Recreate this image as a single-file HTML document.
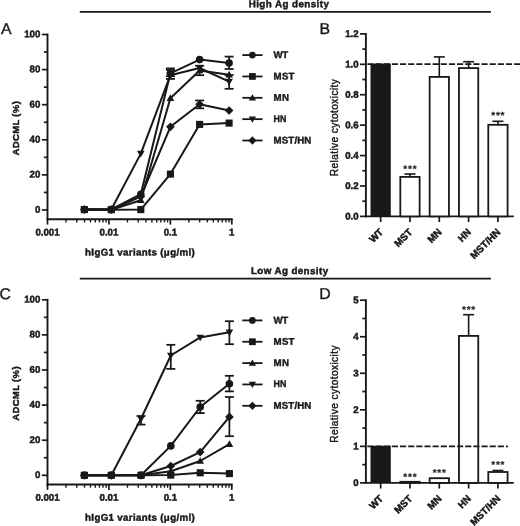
<!DOCTYPE html>
<html><head><meta charset="utf-8"><title>Figure</title>
<style>html,body{margin:0;padding:0;background:#fff}svg{display:block}</style></head>
<body>
<svg width="520" height="526" viewBox="0 0 520 526" font-family="Liberation Sans, Arial, sans-serif" fill="#181818" stroke="#181818">
<rect x="0" y="0" width="520" height="526" fill="#fff" stroke="none"/>
<text transform="translate(248.65 7.3) rotate(0.03)" font-size="9.8" font-weight="bold" text-anchor="start" textLength="80.2" lengthAdjust="spacing" stroke-width="0.45">High Ag density</text>
<text transform="translate(250.9 274.1) rotate(0.03)" font-size="9.8" font-weight="bold" text-anchor="start" textLength="77.2" lengthAdjust="spacing" stroke-width="0.45">Low Ag density</text>
<line x1="79.80" y1="11.95" x2="490.90" y2="11.95" stroke-width="1.8" />
<line x1="79.80" y1="278.70" x2="490.90" y2="278.70" stroke-width="1.8" />
<line x1="47.50" y1="33.60" x2="47.50" y2="220.10" stroke-width="1.9" />
<line x1="41.90" y1="210.00" x2="47.50" y2="210.00" stroke-width="1.7" />
<text transform="translate(40.3 212.7) rotate(0.03)" font-size="9.7" font-weight="bold" text-anchor="end" stroke-width="0.45">0</text>
<line x1="43.90" y1="192.45" x2="47.50" y2="192.45" stroke-width="1.7" />
<line x1="41.90" y1="174.90" x2="47.50" y2="174.90" stroke-width="1.7" />
<text transform="translate(40.3 177.6) rotate(0.03)" font-size="9.7" font-weight="bold" text-anchor="end" stroke-width="0.45">20</text>
<line x1="43.90" y1="157.35" x2="47.50" y2="157.35" stroke-width="1.7" />
<line x1="41.90" y1="139.80" x2="47.50" y2="139.80" stroke-width="1.7" />
<text transform="translate(40.3 142.5) rotate(0.03)" font-size="9.7" font-weight="bold" text-anchor="end" stroke-width="0.45">40</text>
<line x1="43.90" y1="122.25" x2="47.50" y2="122.25" stroke-width="1.7" />
<line x1="41.90" y1="104.70" x2="47.50" y2="104.70" stroke-width="1.7" />
<text transform="translate(40.3 107.4) rotate(0.03)" font-size="9.7" font-weight="bold" text-anchor="end" stroke-width="0.45">60</text>
<line x1="43.90" y1="87.15" x2="47.50" y2="87.15" stroke-width="1.7" />
<line x1="41.90" y1="69.60" x2="47.50" y2="69.60" stroke-width="1.7" />
<text transform="translate(40.3 72.30000000000003) rotate(0.03)" font-size="9.7" font-weight="bold" text-anchor="end" stroke-width="0.45">80</text>
<line x1="43.90" y1="52.05" x2="47.50" y2="52.05" stroke-width="1.7" />
<line x1="41.90" y1="34.50" x2="47.50" y2="34.50" stroke-width="1.7" />
<text transform="translate(40.3 37.2) rotate(0.03)" font-size="9.7" font-weight="bold" text-anchor="end" stroke-width="0.45">100</text>
<line x1="46.60" y1="219.20" x2="232.70" y2="219.20" stroke-width="1.9" />
<line x1="65.99" y1="219.20" x2="65.99" y2="222.40" stroke-width="1.4" />
<line x1="76.81" y1="219.20" x2="76.81" y2="222.40" stroke-width="1.4" />
<line x1="84.49" y1="219.20" x2="84.49" y2="222.40" stroke-width="1.4" />
<line x1="90.44" y1="219.20" x2="90.44" y2="222.40" stroke-width="1.4" />
<line x1="95.30" y1="219.20" x2="95.30" y2="222.40" stroke-width="1.4" />
<line x1="99.42" y1="219.20" x2="99.42" y2="222.40" stroke-width="1.4" />
<line x1="102.98" y1="219.20" x2="102.98" y2="222.40" stroke-width="1.4" />
<line x1="106.12" y1="219.20" x2="106.12" y2="222.40" stroke-width="1.4" />
<line x1="108.93" y1="219.20" x2="108.93" y2="224.60" stroke-width="1.7" />
<line x1="127.43" y1="219.20" x2="127.43" y2="222.40" stroke-width="1.4" />
<line x1="138.24" y1="219.20" x2="138.24" y2="222.40" stroke-width="1.4" />
<line x1="145.92" y1="219.20" x2="145.92" y2="222.40" stroke-width="1.4" />
<line x1="151.87" y1="219.20" x2="151.87" y2="222.40" stroke-width="1.4" />
<line x1="156.74" y1="219.20" x2="156.74" y2="222.40" stroke-width="1.4" />
<line x1="160.85" y1="219.20" x2="160.85" y2="222.40" stroke-width="1.4" />
<line x1="164.41" y1="219.20" x2="164.41" y2="222.40" stroke-width="1.4" />
<line x1="167.56" y1="219.20" x2="167.56" y2="222.40" stroke-width="1.4" />
<line x1="170.37" y1="219.20" x2="170.37" y2="224.60" stroke-width="1.7" />
<line x1="188.86" y1="219.20" x2="188.86" y2="222.40" stroke-width="1.4" />
<line x1="199.68" y1="219.20" x2="199.68" y2="222.40" stroke-width="1.4" />
<line x1="207.35" y1="219.20" x2="207.35" y2="222.40" stroke-width="1.4" />
<line x1="213.31" y1="219.20" x2="213.31" y2="222.40" stroke-width="1.4" />
<line x1="218.17" y1="219.20" x2="218.17" y2="222.40" stroke-width="1.4" />
<line x1="222.28" y1="219.20" x2="222.28" y2="222.40" stroke-width="1.4" />
<line x1="225.85" y1="219.20" x2="225.85" y2="222.40" stroke-width="1.4" />
<line x1="228.99" y1="219.20" x2="228.99" y2="222.40" stroke-width="1.4" />
<line x1="231.80" y1="219.20" x2="231.80" y2="224.60" stroke-width="1.7" />
<line x1="47.50" y1="219.20" x2="47.50" y2="224.60" stroke-width="1.7" />
<text transform="translate(47.5 235.5) rotate(0.03)" font-size="9.7" font-weight="bold" text-anchor="middle" stroke-width="0.45">0.001</text>
<text transform="translate(108.93333333333334 235.5) rotate(0.03)" font-size="9.7" font-weight="bold" text-anchor="middle" stroke-width="0.45">0.01</text>
<text transform="translate(170.36666666666667 235.5) rotate(0.03)" font-size="9.7" font-weight="bold" text-anchor="middle" stroke-width="0.45">0.1</text>
<text transform="translate(231.8 235.5) rotate(0.03)" font-size="9.7" font-weight="bold" text-anchor="middle" stroke-width="0.45">1</text>
<text transform="translate(85.1 255.5) rotate(0.03)" font-size="9.7" font-weight="bold" text-anchor="start" textLength="109.6" lengthAdjust="spacing" stroke-width="0.45">hIgG1 variants (μg/ml)</text>
<text transform="translate(18.9 155.5) rotate(-90)" font-size="9.6" font-weight="bold" text-anchor="start" textLength="54.4" lengthAdjust="spacing" stroke-width="0.45">ADCML (%)</text>
<text transform="translate(1.0 33.9) rotate(0.03)" font-size="15.8" font-weight="normal" text-anchor="start" stroke-width="0.35">A</text>
<path d="M84.40,209.60 L111.30,209.70 L140.80,209.60 L170.40,174.10 L199.60,124.40 L229.10,123.10" fill="none" stroke-width="2.0" stroke-linejoin="round"/>
<g stroke="none">
<rect x="80.85" y="206.05" width="7.10" height="7.10"/>
</g>
<g stroke="none">
<rect x="107.75" y="206.15" width="7.10" height="7.10"/>
</g>
<g stroke="none">
<rect x="137.25" y="206.05" width="7.10" height="7.10"/>
</g>
<g stroke="none">
<rect x="166.85" y="170.55" width="7.10" height="7.10"/>
</g>
<g stroke="none">
<rect x="196.05" y="120.85" width="7.10" height="7.10"/>
</g>
<g stroke="none">
<rect x="225.55" y="119.55" width="7.10" height="7.10"/>
</g>
<path d="M84.40,209.60 L111.30,209.70 L140.80,200.20 L170.40,98.20 L199.60,70.60 L229.10,74.70" fill="none" stroke-width="2.0" stroke-linejoin="round"/>
<line x1="199.60" y1="65.70" x2="199.60" y2="75.20" stroke-width="1.75" />
<line x1="195.10" y1="65.70" x2="204.10" y2="65.70" stroke-width="1.75" />
<line x1="195.10" y1="75.20" x2="204.10" y2="75.20" stroke-width="1.75" />
<g stroke="none">
<polygon points="84.40,205.75 80.55,212.37 88.25,212.37"/>
</g>
<g stroke="none">
<polygon points="111.30,205.85 107.45,212.47 115.15,212.47"/>
</g>
<g stroke="none">
<polygon points="140.80,196.35 136.95,202.97 144.65,202.97"/>
</g>
<g stroke="none">
<polygon points="170.40,94.35 166.55,100.97 174.25,100.97"/>
</g>
<g stroke="none">
<polygon points="199.60,66.75 195.75,73.37 203.45,73.37"/>
</g>
<g stroke="none">
<polygon points="229.10,70.85 225.25,77.47 232.95,77.47"/>
</g>
<path d="M84.40,209.60 L111.30,209.50 L140.80,153.60 L170.40,75.20 L199.60,68.00 L229.10,81.60" fill="none" stroke-width="2.0" stroke-linejoin="round"/>
<line x1="170.40" y1="68.40" x2="170.40" y2="78.90" stroke-width="1.75" />
<line x1="165.90" y1="68.40" x2="174.90" y2="68.40" stroke-width="1.75" />
<line x1="165.90" y1="78.90" x2="174.90" y2="78.90" stroke-width="1.75" />
<line x1="229.10" y1="75.00" x2="229.10" y2="88.80" stroke-width="1.75" />
<line x1="224.60" y1="75.00" x2="233.60" y2="75.00" stroke-width="1.75" />
<line x1="224.60" y1="88.80" x2="233.60" y2="88.80" stroke-width="1.75" />
<g stroke="none">
<polygon points="84.40,213.45 80.55,206.83 88.25,206.83"/>
</g>
<g stroke="none">
<polygon points="111.30,213.35 107.45,206.73 115.15,206.73"/>
</g>
<g stroke="none">
<polygon points="140.80,157.45 136.95,150.83 144.65,150.83"/>
</g>
<g stroke="none">
<polygon points="170.40,79.05 166.55,72.43 174.25,72.43"/>
</g>
<g stroke="none">
<polygon points="199.60,71.85 195.75,65.23 203.45,65.23"/>
</g>
<g stroke="none">
<polygon points="229.10,85.45 225.25,78.83 232.95,78.83"/>
</g>
<path d="M84.40,209.50 L111.30,209.60 L140.80,196.50 L170.40,126.80 L199.60,104.30 L229.10,110.50" fill="none" stroke-width="2.0" stroke-linejoin="round"/>
<line x1="199.60" y1="100.50" x2="199.60" y2="108.30" stroke-width="1.75" />
<line x1="195.10" y1="100.50" x2="204.10" y2="100.50" stroke-width="1.75" />
<line x1="195.10" y1="108.30" x2="204.10" y2="108.30" stroke-width="1.75" />
<g stroke="none">
<polygon points="84.40,205.15 80.05,209.50 84.40,213.85 88.75,209.50"/>
</g>
<g stroke="none">
<polygon points="111.30,205.25 106.95,209.60 111.30,213.95 115.65,209.60"/>
</g>
<g stroke="none">
<polygon points="140.80,192.15 136.45,196.50 140.80,200.85 145.15,196.50"/>
</g>
<g stroke="none">
<polygon points="170.40,122.45 166.05,126.80 170.40,131.15 174.75,126.80"/>
</g>
<g stroke="none">
<polygon points="199.60,99.95 195.25,104.30 199.60,108.65 203.95,104.30"/>
</g>
<g stroke="none">
<polygon points="229.10,106.15 224.75,110.50 229.10,114.85 233.45,110.50"/>
</g>
<path d="M84.40,209.50 L111.30,209.50 L140.80,194.20 L170.40,73.30 L199.60,59.60 L229.10,63.00" fill="none" stroke-width="2.0" stroke-linejoin="round"/>
<line x1="170.40" y1="70.00" x2="170.40" y2="76.20" stroke-width="1.75" />
<line x1="165.90" y1="70.00" x2="174.90" y2="70.00" stroke-width="1.75" />
<line x1="165.90" y1="76.20" x2="174.90" y2="76.20" stroke-width="1.75" />
<line x1="229.10" y1="56.60" x2="229.10" y2="69.00" stroke-width="1.75" />
<line x1="224.60" y1="56.60" x2="233.60" y2="56.60" stroke-width="1.75" />
<line x1="224.60" y1="69.00" x2="233.60" y2="69.00" stroke-width="1.75" />
<g stroke="none">
<circle cx="84.40" cy="209.50" r="3.80"/>
</g>
<g stroke="none">
<circle cx="111.30" cy="209.50" r="3.80"/>
</g>
<g stroke="none">
<circle cx="140.80" cy="194.20" r="3.80"/>
</g>
<g stroke="none">
<circle cx="170.40" cy="73.30" r="3.80"/>
</g>
<g stroke="none">
<circle cx="199.60" cy="59.60" r="3.80"/>
</g>
<g stroke="none">
<circle cx="229.10" cy="63.00" r="3.80"/>
</g>
<line x1="242.30" y1="55.10" x2="262.50" y2="55.10" stroke-width="1.8" />
<g stroke="none">
<circle cx="252.40" cy="55.10" r="3.34"/>
</g>
<text transform="translate(273.6 58.099999999999994) rotate(0.03)" font-size="9.7" font-weight="bold" text-anchor="start" textLength="14.7" lengthAdjust="spacing" stroke-width="0.4">WT</text>
<line x1="242.30" y1="76.45" x2="262.50" y2="76.45" stroke-width="1.8" />
<g stroke="none">
<rect x="249.03" y="73.08" width="6.74" height="6.74"/>
</g>
<text transform="translate(273.6 79.44999999999999) rotate(0.03)" font-size="9.7" font-weight="bold" text-anchor="start" textLength="20.9" lengthAdjust="spacing" stroke-width="0.4">MST</text>
<line x1="242.30" y1="97.80" x2="262.50" y2="97.80" stroke-width="1.8" />
<g stroke="none">
<polygon points="252.40,94.14 248.74,100.43 256.06,100.43"/>
</g>
<text transform="translate(273.6 100.8) rotate(0.03)" font-size="9.7" font-weight="bold" text-anchor="start" textLength="15.3" lengthAdjust="spacing" stroke-width="0.4">MN</text>
<line x1="242.30" y1="119.15" x2="262.50" y2="119.15" stroke-width="1.8" />
<g stroke="none">
<polygon points="252.40,122.81 248.74,116.52 256.06,116.52"/>
</g>
<text transform="translate(273.6 122.15) rotate(0.03)" font-size="9.7" font-weight="bold" text-anchor="start" textLength="12.8" lengthAdjust="spacingAndGlyphs" stroke-width="0.4">HN</text>
<line x1="242.30" y1="140.50" x2="262.50" y2="140.50" stroke-width="1.8" />
<g stroke="none">
<polygon points="252.40,136.37 248.27,140.50 252.40,144.63 256.53,140.50"/>
</g>
<text transform="translate(273.6 143.5) rotate(0.03)" font-size="9.7" font-weight="bold" text-anchor="start" textLength="37.7" lengthAdjust="spacing" stroke-width="0.4">MST/HN</text>
<line x1="47.50" y1="298.90" x2="47.50" y2="485.40" stroke-width="1.9" />
<line x1="41.90" y1="475.30" x2="47.50" y2="475.30" stroke-width="1.7" />
<text transform="translate(40.3 478.0) rotate(0.03)" font-size="9.7" font-weight="bold" text-anchor="end" stroke-width="0.45">0</text>
<line x1="43.90" y1="457.75" x2="47.50" y2="457.75" stroke-width="1.7" />
<line x1="41.90" y1="440.20" x2="47.50" y2="440.20" stroke-width="1.7" />
<text transform="translate(40.3 442.90000000000003) rotate(0.03)" font-size="9.7" font-weight="bold" text-anchor="end" stroke-width="0.45">20</text>
<line x1="43.90" y1="422.65" x2="47.50" y2="422.65" stroke-width="1.7" />
<line x1="41.90" y1="405.10" x2="47.50" y2="405.10" stroke-width="1.7" />
<text transform="translate(40.3 407.8) rotate(0.03)" font-size="9.7" font-weight="bold" text-anchor="end" stroke-width="0.45">40</text>
<line x1="43.90" y1="387.55" x2="47.50" y2="387.55" stroke-width="1.7" />
<line x1="41.90" y1="370.00" x2="47.50" y2="370.00" stroke-width="1.7" />
<text transform="translate(40.3 372.7) rotate(0.03)" font-size="9.7" font-weight="bold" text-anchor="end" stroke-width="0.45">60</text>
<line x1="43.90" y1="352.45" x2="47.50" y2="352.45" stroke-width="1.7" />
<line x1="41.90" y1="334.90" x2="47.50" y2="334.90" stroke-width="1.7" />
<text transform="translate(40.3 337.6) rotate(0.03)" font-size="9.7" font-weight="bold" text-anchor="end" stroke-width="0.45">80</text>
<line x1="43.90" y1="317.35" x2="47.50" y2="317.35" stroke-width="1.7" />
<line x1="41.90" y1="299.80" x2="47.50" y2="299.80" stroke-width="1.7" />
<text transform="translate(40.3 302.5) rotate(0.03)" font-size="9.7" font-weight="bold" text-anchor="end" stroke-width="0.45">100</text>
<line x1="46.60" y1="484.50" x2="232.70" y2="484.50" stroke-width="1.9" />
<line x1="65.99" y1="484.50" x2="65.99" y2="487.70" stroke-width="1.4" />
<line x1="76.81" y1="484.50" x2="76.81" y2="487.70" stroke-width="1.4" />
<line x1="84.49" y1="484.50" x2="84.49" y2="487.70" stroke-width="1.4" />
<line x1="90.44" y1="484.50" x2="90.44" y2="487.70" stroke-width="1.4" />
<line x1="95.30" y1="484.50" x2="95.30" y2="487.70" stroke-width="1.4" />
<line x1="99.42" y1="484.50" x2="99.42" y2="487.70" stroke-width="1.4" />
<line x1="102.98" y1="484.50" x2="102.98" y2="487.70" stroke-width="1.4" />
<line x1="106.12" y1="484.50" x2="106.12" y2="487.70" stroke-width="1.4" />
<line x1="108.93" y1="484.50" x2="108.93" y2="489.90" stroke-width="1.7" />
<line x1="127.43" y1="484.50" x2="127.43" y2="487.70" stroke-width="1.4" />
<line x1="138.24" y1="484.50" x2="138.24" y2="487.70" stroke-width="1.4" />
<line x1="145.92" y1="484.50" x2="145.92" y2="487.70" stroke-width="1.4" />
<line x1="151.87" y1="484.50" x2="151.87" y2="487.70" stroke-width="1.4" />
<line x1="156.74" y1="484.50" x2="156.74" y2="487.70" stroke-width="1.4" />
<line x1="160.85" y1="484.50" x2="160.85" y2="487.70" stroke-width="1.4" />
<line x1="164.41" y1="484.50" x2="164.41" y2="487.70" stroke-width="1.4" />
<line x1="167.56" y1="484.50" x2="167.56" y2="487.70" stroke-width="1.4" />
<line x1="170.37" y1="484.50" x2="170.37" y2="489.90" stroke-width="1.7" />
<line x1="188.86" y1="484.50" x2="188.86" y2="487.70" stroke-width="1.4" />
<line x1="199.68" y1="484.50" x2="199.68" y2="487.70" stroke-width="1.4" />
<line x1="207.35" y1="484.50" x2="207.35" y2="487.70" stroke-width="1.4" />
<line x1="213.31" y1="484.50" x2="213.31" y2="487.70" stroke-width="1.4" />
<line x1="218.17" y1="484.50" x2="218.17" y2="487.70" stroke-width="1.4" />
<line x1="222.28" y1="484.50" x2="222.28" y2="487.70" stroke-width="1.4" />
<line x1="225.85" y1="484.50" x2="225.85" y2="487.70" stroke-width="1.4" />
<line x1="228.99" y1="484.50" x2="228.99" y2="487.70" stroke-width="1.4" />
<line x1="231.80" y1="484.50" x2="231.80" y2="489.90" stroke-width="1.7" />
<line x1="47.50" y1="484.50" x2="47.50" y2="489.90" stroke-width="1.7" />
<text transform="translate(47.5 500.8) rotate(0.03)" font-size="9.7" font-weight="bold" text-anchor="middle" stroke-width="0.45">0.001</text>
<text transform="translate(108.93333333333334 500.8) rotate(0.03)" font-size="9.7" font-weight="bold" text-anchor="middle" stroke-width="0.45">0.01</text>
<text transform="translate(170.36666666666667 500.8) rotate(0.03)" font-size="9.7" font-weight="bold" text-anchor="middle" stroke-width="0.45">0.1</text>
<text transform="translate(231.8 500.8) rotate(0.03)" font-size="9.7" font-weight="bold" text-anchor="middle" stroke-width="0.45">1</text>
<text transform="translate(85.1 520.8) rotate(0.03)" font-size="9.7" font-weight="bold" text-anchor="start" textLength="109.6" lengthAdjust="spacing" stroke-width="0.45">hIgG1 variants (μg/ml)</text>
<text transform="translate(18.9 420.8) rotate(-90)" font-size="9.6" font-weight="bold" text-anchor="start" textLength="54.4" lengthAdjust="spacing" stroke-width="0.45">ADCML (%)</text>
<text transform="translate(-0.6 299.3) rotate(0.03)" font-size="15.8" font-weight="normal" text-anchor="start" stroke-width="0.35">C</text>
<path d="M84.40,475.30 L111.30,475.30 L141.00,475.30 L170.80,475.10 L200.20,472.80 L229.40,473.60" fill="none" stroke-width="2.0" stroke-linejoin="round"/>
<g stroke="none">
<rect x="80.85" y="471.75" width="7.10" height="7.10"/>
</g>
<g stroke="none">
<rect x="107.75" y="471.75" width="7.10" height="7.10"/>
</g>
<g stroke="none">
<rect x="137.45" y="471.75" width="7.10" height="7.10"/>
</g>
<g stroke="none">
<rect x="167.25" y="471.55" width="7.10" height="7.10"/>
</g>
<g stroke="none">
<rect x="196.65" y="469.25" width="7.10" height="7.10"/>
</g>
<g stroke="none">
<rect x="225.85" y="470.05" width="7.10" height="7.10"/>
</g>
<path d="M84.40,475.30 L111.30,475.30 L141.00,475.30 L170.80,471.20 L200.20,461.00 L229.40,444.20" fill="none" stroke-width="2.0" stroke-linejoin="round"/>
<g stroke="none">
<polygon points="84.40,471.45 80.55,478.07 88.25,478.07"/>
</g>
<g stroke="none">
<polygon points="111.30,471.45 107.45,478.07 115.15,478.07"/>
</g>
<g stroke="none">
<polygon points="141.00,471.45 137.15,478.07 144.85,478.07"/>
</g>
<g stroke="none">
<polygon points="170.80,467.35 166.95,473.97 174.65,473.97"/>
</g>
<g stroke="none">
<polygon points="200.20,457.15 196.35,463.77 204.05,463.77"/>
</g>
<g stroke="none">
<polygon points="229.40,440.35 225.55,446.97 233.25,446.97"/>
</g>
<path d="M84.40,475.30 L111.30,475.30 L141.00,418.80 L170.80,355.50 L200.20,337.40 L229.40,332.30" fill="none" stroke-width="2.0" stroke-linejoin="round"/>
<line x1="141.00" y1="416.00" x2="141.00" y2="424.60" stroke-width="1.75" />
<line x1="136.50" y1="416.00" x2="145.50" y2="416.00" stroke-width="1.75" />
<line x1="136.50" y1="424.60" x2="145.50" y2="424.60" stroke-width="1.75" />
<line x1="170.80" y1="344.80" x2="170.80" y2="368.90" stroke-width="1.75" />
<line x1="166.30" y1="344.80" x2="175.30" y2="344.80" stroke-width="1.75" />
<line x1="166.30" y1="368.90" x2="175.30" y2="368.90" stroke-width="1.75" />
<line x1="229.40" y1="321.20" x2="229.40" y2="344.20" stroke-width="1.75" />
<line x1="224.90" y1="321.20" x2="233.90" y2="321.20" stroke-width="1.75" />
<line x1="224.90" y1="344.20" x2="233.90" y2="344.20" stroke-width="1.75" />
<g stroke="none">
<polygon points="84.40,479.15 80.55,472.53 88.25,472.53"/>
</g>
<g stroke="none">
<polygon points="111.30,479.15 107.45,472.53 115.15,472.53"/>
</g>
<g stroke="none">
<polygon points="141.00,422.65 137.15,416.03 144.85,416.03"/>
</g>
<g stroke="none">
<polygon points="170.80,359.35 166.95,352.73 174.65,352.73"/>
</g>
<g stroke="none">
<polygon points="200.20,341.25 196.35,334.63 204.05,334.63"/>
</g>
<g stroke="none">
<polygon points="229.40,336.15 225.55,329.53 233.25,329.53"/>
</g>
<path d="M84.40,475.30 L111.30,475.30 L141.00,475.30 L170.80,466.00 L200.20,452.10 L229.40,416.90" fill="none" stroke-width="2.0" stroke-linejoin="round"/>
<line x1="229.40" y1="397.00" x2="229.40" y2="436.20" stroke-width="1.75" />
<line x1="224.90" y1="397.00" x2="233.90" y2="397.00" stroke-width="1.75" />
<line x1="224.90" y1="436.20" x2="233.90" y2="436.20" stroke-width="1.75" />
<g stroke="none">
<polygon points="84.40,470.95 80.05,475.30 84.40,479.65 88.75,475.30"/>
</g>
<g stroke="none">
<polygon points="111.30,470.95 106.95,475.30 111.30,479.65 115.65,475.30"/>
</g>
<g stroke="none">
<polygon points="141.00,470.95 136.65,475.30 141.00,479.65 145.35,475.30"/>
</g>
<g stroke="none">
<polygon points="170.80,461.65 166.45,466.00 170.80,470.35 175.15,466.00"/>
</g>
<g stroke="none">
<polygon points="200.20,447.75 195.85,452.10 200.20,456.45 204.55,452.10"/>
</g>
<g stroke="none">
<polygon points="229.40,412.55 225.05,416.90 229.40,421.25 233.75,416.90"/>
</g>
<path d="M84.40,475.30 L111.30,475.30 L141.00,475.30 L170.80,445.90 L200.20,407.00 L229.40,383.70" fill="none" stroke-width="2.0" stroke-linejoin="round"/>
<line x1="200.20" y1="400.80" x2="200.20" y2="413.10" stroke-width="1.75" />
<line x1="195.70" y1="400.80" x2="204.70" y2="400.80" stroke-width="1.75" />
<line x1="195.70" y1="413.10" x2="204.70" y2="413.10" stroke-width="1.75" />
<line x1="229.40" y1="375.80" x2="229.40" y2="391.40" stroke-width="1.75" />
<line x1="224.90" y1="375.80" x2="233.90" y2="375.80" stroke-width="1.75" />
<line x1="224.90" y1="391.40" x2="233.90" y2="391.40" stroke-width="1.75" />
<g stroke="none">
<circle cx="84.40" cy="475.30" r="3.80"/>
</g>
<g stroke="none">
<circle cx="111.30" cy="475.30" r="3.80"/>
</g>
<g stroke="none">
<circle cx="141.00" cy="475.30" r="3.80"/>
</g>
<g stroke="none">
<circle cx="170.80" cy="445.90" r="3.80"/>
</g>
<g stroke="none">
<circle cx="200.20" cy="407.00" r="3.80"/>
</g>
<g stroke="none">
<circle cx="229.40" cy="383.70" r="3.80"/>
</g>
<line x1="242.30" y1="320.40" x2="262.50" y2="320.40" stroke-width="1.8" />
<g stroke="none">
<circle cx="252.40" cy="320.40" r="3.34"/>
</g>
<text transform="translate(273.6 323.4) rotate(0.03)" font-size="9.7" font-weight="bold" text-anchor="start" textLength="14.7" lengthAdjust="spacing" stroke-width="0.4">WT</text>
<line x1="242.30" y1="341.75" x2="262.50" y2="341.75" stroke-width="1.8" />
<g stroke="none">
<rect x="249.03" y="338.38" width="6.74" height="6.74"/>
</g>
<text transform="translate(273.6 344.75) rotate(0.03)" font-size="9.7" font-weight="bold" text-anchor="start" textLength="20.9" lengthAdjust="spacing" stroke-width="0.4">MST</text>
<line x1="242.30" y1="363.10" x2="262.50" y2="363.10" stroke-width="1.8" />
<g stroke="none">
<polygon points="252.40,359.44 248.74,365.73 256.06,365.73"/>
</g>
<text transform="translate(273.6 366.09999999999997) rotate(0.03)" font-size="9.7" font-weight="bold" text-anchor="start" textLength="15.3" lengthAdjust="spacing" stroke-width="0.4">MN</text>
<line x1="242.30" y1="384.45" x2="262.50" y2="384.45" stroke-width="1.8" />
<g stroke="none">
<polygon points="252.40,388.11 248.74,381.82 256.06,381.82"/>
</g>
<text transform="translate(273.6 387.45) rotate(0.03)" font-size="9.7" font-weight="bold" text-anchor="start" textLength="12.8" lengthAdjust="spacingAndGlyphs" stroke-width="0.4">HN</text>
<line x1="242.30" y1="405.80" x2="262.50" y2="405.80" stroke-width="1.8" />
<g stroke="none">
<polygon points="252.40,401.67 248.27,405.80 252.40,409.93 256.53,405.80"/>
</g>
<text transform="translate(273.6 408.79999999999995) rotate(0.03)" font-size="9.7" font-weight="bold" text-anchor="start" textLength="37.7" lengthAdjust="spacing" stroke-width="0.4">MST/HN</text>
<line x1="365.90" y1="33.00" x2="365.90" y2="217.30" stroke-width="1.9" />
<line x1="360.00" y1="216.40" x2="365.90" y2="216.40" stroke-width="1.7" />
<text transform="translate(358.7 219.5) rotate(0.03)" font-size="9.7" font-weight="bold" text-anchor="end" stroke-width="0.45">0.0</text>
<line x1="360.00" y1="185.98" x2="365.90" y2="185.98" stroke-width="1.7" />
<text transform="translate(358.7 189.08333333333334) rotate(0.03)" font-size="9.7" font-weight="bold" text-anchor="end" stroke-width="0.45">0.2</text>
<line x1="360.00" y1="155.57" x2="365.90" y2="155.57" stroke-width="1.7" />
<text transform="translate(358.7 158.66666666666666) rotate(0.03)" font-size="9.7" font-weight="bold" text-anchor="end" stroke-width="0.45">0.4</text>
<line x1="360.00" y1="125.15" x2="365.90" y2="125.15" stroke-width="1.7" />
<text transform="translate(358.7 128.25) rotate(0.03)" font-size="9.7" font-weight="bold" text-anchor="end" stroke-width="0.45">0.6</text>
<line x1="360.00" y1="94.73" x2="365.90" y2="94.73" stroke-width="1.7" />
<text transform="translate(358.7 97.83333333333331) rotate(0.03)" font-size="9.7" font-weight="bold" text-anchor="end" stroke-width="0.45">0.8</text>
<line x1="360.00" y1="64.32" x2="365.90" y2="64.32" stroke-width="1.7" />
<text transform="translate(358.7 67.41666666666666) rotate(0.03)" font-size="9.7" font-weight="bold" text-anchor="end" stroke-width="0.45">1.0</text>
<line x1="360.00" y1="33.90" x2="365.90" y2="33.90" stroke-width="1.7" />
<text transform="translate(358.7 37.00000000000001) rotate(0.03)" font-size="9.7" font-weight="bold" text-anchor="end" stroke-width="0.45">1.2</text>
<line x1="362.30" y1="201.19" x2="365.90" y2="201.19" stroke-width="1.7" />
<line x1="362.30" y1="170.78" x2="365.90" y2="170.78" stroke-width="1.7" />
<line x1="362.30" y1="140.36" x2="365.90" y2="140.36" stroke-width="1.7" />
<line x1="362.30" y1="109.94" x2="365.90" y2="109.94" stroke-width="1.7" />
<line x1="362.30" y1="79.53" x2="365.90" y2="79.53" stroke-width="1.7" />
<line x1="362.30" y1="49.11" x2="365.90" y2="49.11" stroke-width="1.7" />
<line x1="365.00" y1="216.40" x2="513.80" y2="216.40" stroke-width="1.9" />
<rect x="370.50" y="63.60" width="20.3" height="152.80" fill="#181818" stroke="none"/>
<line x1="380.65" y1="216.40" x2="380.65" y2="222.00" stroke-width="1.7" />
<text transform="translate(383.65 232.8) rotate(-45)" font-size="9.8" font-weight="bold" text-anchor="end" textLength="14.7" lengthAdjust="spacing" stroke-width="0.5">WT</text>
<line x1="409.97" y1="174.00" x2="409.97" y2="176.90" stroke-width="1.6" />
<line x1="404.47" y1="174.00" x2="415.47" y2="174.00" stroke-width="1.6" />
<rect x="400.32" y="176.90" width="19.3" height="39.50" fill="#fff" stroke-width="1.8"/>
<line x1="409.97" y1="216.40" x2="409.97" y2="222.00" stroke-width="1.7" />
<text transform="translate(403.36999999999995 172.2) rotate(0.03)" font-size="10.0" font-weight="bold" text-anchor="start" textLength="13.2" lengthAdjust="spacing" stroke-width="0.2">***</text>
<text transform="translate(412.96999999999997 232.8) rotate(-45)" font-size="9.8" font-weight="bold" text-anchor="end" textLength="20.9" lengthAdjust="spacing" stroke-width="0.5">MST</text>
<line x1="439.29" y1="56.90" x2="439.29" y2="76.90" stroke-width="1.6" />
<line x1="433.79" y1="56.90" x2="444.79" y2="56.90" stroke-width="1.6" />
<rect x="429.64" y="76.90" width="19.3" height="139.50" fill="#fff" stroke-width="1.8"/>
<line x1="439.29" y1="216.40" x2="439.29" y2="222.00" stroke-width="1.7" />
<text transform="translate(442.28999999999996 232.8) rotate(-45)" font-size="9.8" font-weight="bold" text-anchor="end" textLength="15.3" lengthAdjust="spacing" stroke-width="0.5">MN</text>
<line x1="468.61" y1="61.70" x2="468.61" y2="68.10" stroke-width="1.6" />
<line x1="463.11" y1="61.70" x2="474.11" y2="61.70" stroke-width="1.6" />
<rect x="458.96" y="68.10" width="19.3" height="148.30" fill="#fff" stroke-width="1.8"/>
<line x1="468.61" y1="216.40" x2="468.61" y2="222.00" stroke-width="1.7" />
<text transform="translate(471.61 232.8) rotate(-45)" font-size="9.8" font-weight="bold" text-anchor="end" textLength="13.6" lengthAdjust="spacingAndGlyphs" stroke-width="0.5">HN</text>
<line x1="497.93" y1="121.30" x2="497.93" y2="124.80" stroke-width="1.6" />
<line x1="492.43" y1="121.30" x2="503.43" y2="121.30" stroke-width="1.6" />
<rect x="488.28" y="124.80" width="19.3" height="91.60" fill="#fff" stroke-width="1.8"/>
<line x1="497.93" y1="216.40" x2="497.93" y2="222.00" stroke-width="1.7" />
<text transform="translate(491.3299999999999 118.8) rotate(0.03)" font-size="10.0" font-weight="bold" text-anchor="start" textLength="13.2" lengthAdjust="spacing" stroke-width="0.2">***</text>
<text transform="translate(500.92999999999995 232.8) rotate(-45)" font-size="9.8" font-weight="bold" text-anchor="end" textLength="37.7" lengthAdjust="spacing" stroke-width="0.5">MST/HN</text>
<line x1="367.4" y1="64.20" x2="520" y2="64.20" stroke-width="1.7" stroke-dasharray="6.15 2"/>
<text transform="translate(338.3 176.25) rotate(-90)" font-size="10.2" font-weight="normal" text-anchor="start" textLength="97.2" lengthAdjust="spacing" stroke-width="0.4">Relative cytotoxicity</text>
<text transform="translate(319.5 34.0) rotate(0.03)" font-size="15.8" font-weight="normal" text-anchor="start" stroke-width="0.35">B</text>
<line x1="365.90" y1="299.30" x2="365.90" y2="483.80" stroke-width="1.9" />
<line x1="360.00" y1="482.90" x2="365.90" y2="482.90" stroke-width="1.7" />
<text transform="translate(358.7 486.0) rotate(0.03)" font-size="9.7" font-weight="bold" text-anchor="end" stroke-width="0.45">0</text>
<line x1="360.00" y1="446.36" x2="365.90" y2="446.36" stroke-width="1.7" />
<text transform="translate(358.7 449.46) rotate(0.03)" font-size="9.7" font-weight="bold" text-anchor="end" stroke-width="0.45">1</text>
<line x1="360.00" y1="409.82" x2="365.90" y2="409.82" stroke-width="1.7" />
<text transform="translate(358.7 412.92) rotate(0.03)" font-size="9.7" font-weight="bold" text-anchor="end" stroke-width="0.45">2</text>
<line x1="360.00" y1="373.28" x2="365.90" y2="373.28" stroke-width="1.7" />
<text transform="translate(358.7 376.38) rotate(0.03)" font-size="9.7" font-weight="bold" text-anchor="end" stroke-width="0.45">3</text>
<line x1="360.00" y1="336.74" x2="365.90" y2="336.74" stroke-width="1.7" />
<text transform="translate(358.7 339.84000000000003) rotate(0.03)" font-size="9.7" font-weight="bold" text-anchor="end" stroke-width="0.45">4</text>
<line x1="360.00" y1="300.20" x2="365.90" y2="300.20" stroke-width="1.7" />
<text transform="translate(358.7 303.3) rotate(0.03)" font-size="9.7" font-weight="bold" text-anchor="end" stroke-width="0.45">5</text>
<line x1="362.30" y1="464.63" x2="365.90" y2="464.63" stroke-width="1.7" />
<line x1="362.30" y1="428.09" x2="365.90" y2="428.09" stroke-width="1.7" />
<line x1="362.30" y1="391.55" x2="365.90" y2="391.55" stroke-width="1.7" />
<line x1="362.30" y1="355.01" x2="365.90" y2="355.01" stroke-width="1.7" />
<line x1="362.30" y1="318.47" x2="365.90" y2="318.47" stroke-width="1.7" />
<line x1="365.00" y1="482.90" x2="513.80" y2="482.90" stroke-width="1.9" />
<rect x="370.50" y="445.80" width="20.3" height="37.10" fill="#181818" stroke="none"/>
<line x1="380.65" y1="482.90" x2="380.65" y2="488.50" stroke-width="1.7" />
<text transform="translate(383.65 499.29999999999995) rotate(-45)" font-size="9.8" font-weight="bold" text-anchor="end" textLength="14.7" lengthAdjust="spacing" stroke-width="0.5">WT</text>
<rect x="400.32" y="481.80" width="19.3" height="1.10" fill="#fff" stroke-width="1.8"/>
<line x1="409.97" y1="482.90" x2="409.97" y2="488.50" stroke-width="1.7" />
<text transform="translate(403.36999999999995 480.2) rotate(0.03)" font-size="10.0" font-weight="bold" text-anchor="start" textLength="13.2" lengthAdjust="spacing" stroke-width="0.2">***</text>
<text transform="translate(412.96999999999997 499.29999999999995) rotate(-45)" font-size="9.8" font-weight="bold" text-anchor="end" textLength="20.9" lengthAdjust="spacing" stroke-width="0.5">MST</text>
<rect x="429.64" y="478.20" width="19.3" height="4.70" fill="#fff" stroke-width="1.8"/>
<line x1="439.29" y1="482.90" x2="439.29" y2="488.50" stroke-width="1.7" />
<text transform="translate(432.68999999999994 475.9) rotate(0.03)" font-size="10.0" font-weight="bold" text-anchor="start" textLength="13.2" lengthAdjust="spacing" stroke-width="0.2">***</text>
<text transform="translate(442.28999999999996 499.29999999999995) rotate(-45)" font-size="9.8" font-weight="bold" text-anchor="end" textLength="15.3" lengthAdjust="spacing" stroke-width="0.5">MN</text>
<line x1="468.61" y1="314.70" x2="468.61" y2="335.90" stroke-width="1.6" />
<line x1="463.11" y1="314.70" x2="474.11" y2="314.70" stroke-width="1.6" />
<rect x="458.96" y="335.90" width="19.3" height="147.00" fill="#fff" stroke-width="1.8"/>
<line x1="468.61" y1="482.90" x2="468.61" y2="488.50" stroke-width="1.7" />
<text transform="translate(462.01 313.0) rotate(0.03)" font-size="10.0" font-weight="bold" text-anchor="start" textLength="13.2" lengthAdjust="spacing" stroke-width="0.2">***</text>
<text transform="translate(471.61 499.29999999999995) rotate(-45)" font-size="9.8" font-weight="bold" text-anchor="end" textLength="13.6" lengthAdjust="spacingAndGlyphs" stroke-width="0.5">HN</text>
<line x1="497.93" y1="470.50" x2="497.93" y2="472.00" stroke-width="1.6" />
<line x1="492.43" y1="470.50" x2="503.43" y2="470.50" stroke-width="1.6" />
<rect x="488.28" y="472.00" width="19.3" height="10.90" fill="#fff" stroke-width="1.8"/>
<line x1="497.93" y1="482.90" x2="497.93" y2="488.50" stroke-width="1.7" />
<text transform="translate(491.3299999999999 467.9) rotate(0.03)" font-size="10.0" font-weight="bold" text-anchor="start" textLength="13.2" lengthAdjust="spacing" stroke-width="0.2">***</text>
<text transform="translate(500.92999999999995 499.29999999999995) rotate(-45)" font-size="9.8" font-weight="bold" text-anchor="end" textLength="37.7" lengthAdjust="spacing" stroke-width="0.5">MST/HN</text>
<line x1="367.4" y1="446.30" x2="508" y2="446.30" stroke-width="1.7" stroke-dasharray="6.15 2"/>
<text transform="translate(338.3 442.65) rotate(-90)" font-size="10.2" font-weight="normal" text-anchor="start" textLength="97.2" lengthAdjust="spacing" stroke-width="0.4">Relative cytotoxicity</text>
<text transform="translate(319.3 299.0) rotate(0.03)" font-size="15.8" font-weight="normal" text-anchor="start" stroke-width="0.35">D</text>
</svg>
</body></html>
